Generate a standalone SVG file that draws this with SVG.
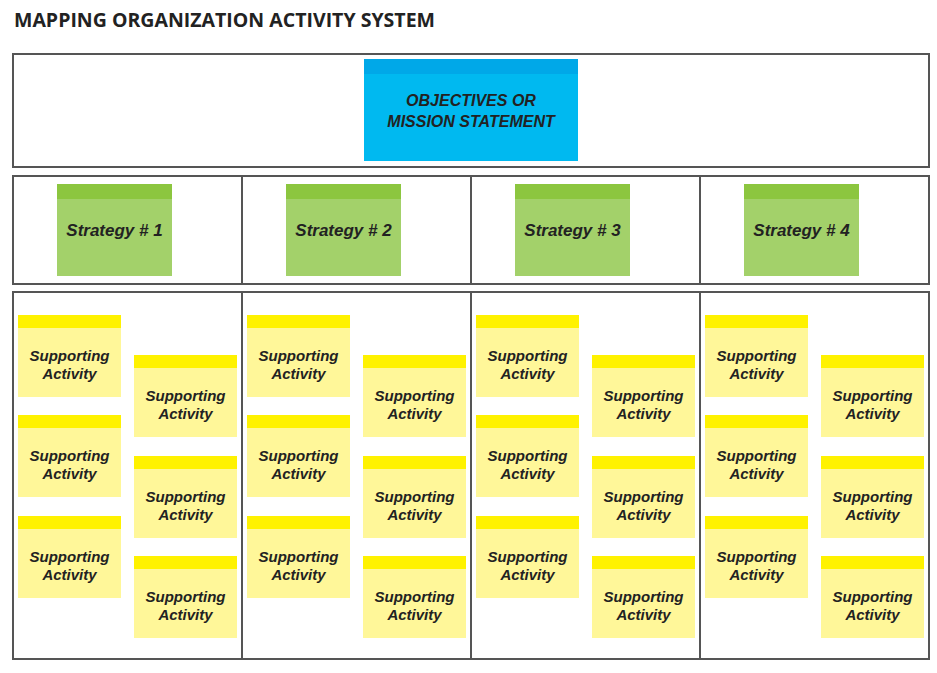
<svg xmlns="http://www.w3.org/2000/svg" width="937" height="673" viewBox="0 0 937 673">
<style>
.frame{fill:#fff;stroke:#555;stroke-width:2}
.div{stroke:#555;stroke-width:2}
.t{font-family:"Liberation Sans",Arial,sans-serif;font-style:italic;font-weight:bold;fill:#222;text-anchor:middle}
.sa{font-size:15px}
.yb{fill:#fff799}.yt{fill:#fff200}
.gb{fill:#a3d16a}.gt{fill:#8cc63f}
</style>
<defs>
<g id="sa">
<rect class="yb" x="0" y="0" width="103" height="82"/>
<rect class="yt" x="0" y="0" width="103" height="13"/>
<text class="t sa" x="51.5" y="46">Supporting</text>
<text class="t sa" x="51.5" y="64">Activity</text>
</g>
<g id="col">
<use href="#sa" x="18" y="315"/>
<use href="#sa" x="18" y="415"/>
<use href="#sa" x="18" y="516"/>
<use href="#sa" x="134" y="355"/>
<use href="#sa" x="134" y="456"/>
<use href="#sa" x="134" y="556"/>
</g>
</defs>
<text x="14" y="27" font-family="'Open Sans','Liberation Sans',sans-serif" font-weight="bold" font-size="19" fill="#222" textLength="421" lengthAdjust="spacingAndGlyphs">MAPPING ORGANIZATION ACTIVITY SYSTEM</text>
<rect class="frame" x="13" y="54" width="916" height="113"/>
<rect class="frame" x="13" y="176" width="916" height="108"/>
<rect class="frame" x="13" y="292" width="916" height="367"/>
<g id="connectors">
<line class="div" x1="242" y1="176" x2="242" y2="284"/>
<line class="div" x1="471" y1="176" x2="471" y2="284"/>
<line class="div" x1="700" y1="176" x2="700" y2="284"/>
<line class="div" x1="242" y1="292" x2="242" y2="659"/>
<line class="div" x1="471" y1="292" x2="471" y2="659"/>
<line class="div" x1="700" y1="292" x2="700" y2="659"/>
</g>
<g id="objective">
<rect x="364" y="59" width="214" height="102" fill="#00b9f0"/>
<rect x="364" y="59" width="214" height="15" fill="#00a8e8"/>
<text class="t" x="471" y="106" font-size="16">OBJECTIVES OR</text>
<text class="t" x="471" y="127" font-size="16">MISSION STATEMENT</text>
</g>
<g id="strategy1"><rect class="gb" x="57" y="184" width="115" height="92"/><rect class="gt" x="57" y="184" width="115" height="15"/><text class="t" x="114.5" y="236" font-size="17">Strategy # 1</text></g>
<g id="strategy2"><rect class="gb" x="286" y="184" width="115" height="92"/><rect class="gt" x="286" y="184" width="115" height="15"/><text class="t" x="343.5" y="236" font-size="17">Strategy # 2</text></g>
<g id="strategy3"><rect class="gb" x="515" y="184" width="115" height="92"/><rect class="gt" x="515" y="184" width="115" height="15"/><text class="t" x="572.5" y="236" font-size="17">Strategy # 3</text></g>
<g id="strategy4"><rect class="gb" x="744" y="184" width="115" height="92"/><rect class="gt" x="744" y="184" width="115" height="15"/><text class="t" x="801.5" y="236" font-size="17">Strategy # 4</text></g>
<g id="activities1"><use href="#col"/></g>
<g id="activities2"><use href="#col" x="229"/></g>
<g id="activities3"><use href="#col" x="458"/></g>
<g id="activities4"><use href="#col" x="687"/></g>
</svg>
